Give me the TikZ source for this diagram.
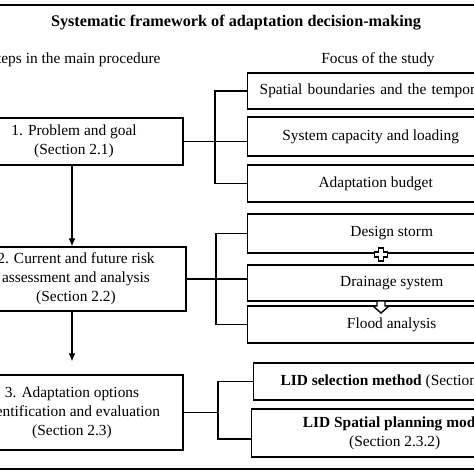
\documentclass[tikz,border=0pt]{standalone}
\usepackage{fontspec}
\setmainfont{Liberation Serif}
\usetikzlibrary{arrows.meta}
\tikzset{%
    every node/.style={font=\fontsize{15.4}{19}\selectfont},
    stepbox/.style={draw, line width=1.4pt, align=center, inner sep=0pt},
    focusbox/.style={draw, line width=1.4pt, align=center, inner sep=0pt,
        anchor=west},
    flowarrow/.style={line width=1.2pt, -{Latex[length=8pt, width=7pt]}},
    link/.style={line width=1.2pt}
}

\begin{document}
\begin{tikzpicture}[x=1pt, y=-1pt]
	\useasboundingbox (0,0) rectangle (474,474);
	\clip (0,0) rectangle (474,474);
	\draw [line width=1.4pt] (0,5) -- (474,5);
	\draw [line width=1.4pt] (0,469) -- (474,469);
	\node [font=\fontsize{16.2}{19}\selectfont\bfseries] (title) at (236,23)
		{Systematic framework of adaptation decision-making};
	\node [anchor=east] (lhead) at (164,60) {Steps in the main procedure};
	\node (rhead) at (378,60) {Focus of the study};
	% main steps
	\node [stepbox, minimum width=218, minimum height=47] (s1) at (74,141.5)
		{1. Problem and goal\\(Section 2.1)};
	\node [stepbox, minimum width=220, minimum height=64] (s2) at (76,279)
		{2. Current and future risk\\assessment and analysis\\(Section 2.2)};
	\node [stepbox, minimum width=222, minimum height=75] (s3) at (72,412.5)
		{3. Adaptation options\\identification and evaluation\\(Section 2.3)};
	% focus of the study
	\node [focusbox, minimum height=36, text width=300, align=left,
		inner xsep=12pt] (f1) at (247,91) {Spatial boundaries and the temporal};
	\node [focusbox, minimum width=246, minimum height=39] (f2) at (247,136.5)
		{System capacity and loading};
	\node [focusbox, minimum width=256, minimum height=37] (f3) at (247,183.5)
		{Adaptation budget};
	\node [focusbox, minimum width=288, minimum height=39] (f4) at (247,233.5)
		{Design storm};
	\node [focusbox, minimum width=288, minimum height=36] (f5) at (247,283)
		{Drainage system};
	\node [focusbox, minimum width=288, minimum height=37] (f6) at (247,324.5)
		{Flood analysis};
	\node [focusbox, minimum width=290, minimum height=37] (f7) at (253,381.5)
		{\bfseries LID selection method \mdseries(Section 2.3.1)};
	\node [focusbox, minimum width=286, minimum height=48] (f8) at (251,433)
		{\bfseries LID Spatial planning model\\(Section 2.3.2)};
	% brackets
	\draw [link] (f1.west) -- ++(-32,0) |- (f3.west);
	\draw [link] (s1.east) -- (s1.east -| f2.west);
	\draw [link] (f4.west) -- ++(-31,0) |- (f6.west);
	\draw [link] (s2.east) -- (s2.east -| f5.west);
	\draw [link] (f7.west) -- ++(-35,0) coordinate (k3) |- ([yshift=-6pt]f8.west);
	\draw [link] (s3.east) -- (s3.east -| k3);
	% main flow
	\draw [flowarrow] (s1.south -| s3.north) -- (s2.north -| s3.north);
	\draw [flowarrow, shorten >=13pt] (s2.south -| s3.north) -- (s3.north);
	% plus and block arrow
	\draw [fill=white, line width=1.4pt] (378.5,248) -- (383.5,248) -- (383.5,252)
		-- (387.5,252) -- (387.5,257) -- (383.5,257) -- (383.5,261) -- (378.5,261)
		-- (378.5,257) -- (374.5,257) -- (374.5,252) -- (378.5,252) -- cycle;
	\draw [fill=white, line width=1.4pt] (377,301) -- (385,301) -- (385,306)
		-- (389,306) -- (381,313) -- (373,306) -- (377,306) -- cycle;
\end{tikzpicture}
\end{document}
